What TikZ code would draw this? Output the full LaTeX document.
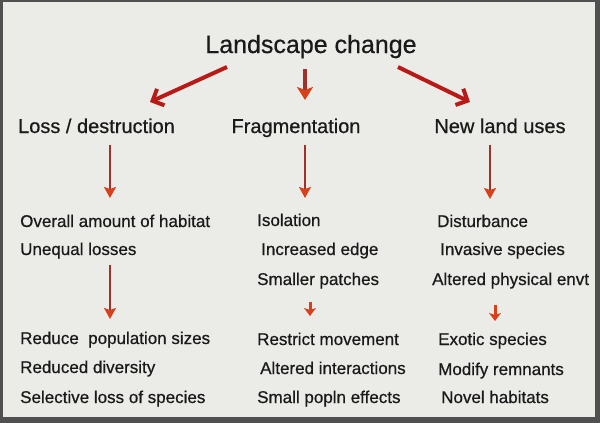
\documentclass[tikz,border=0pt]{standalone}
\usepackage{fontspec}
\setmainfont[FakeBold=0.6,AutoFakeBold=false]{Liberation Sans}
\usetikzlibrary{arrows.meta}
\definecolor{bgc}{HTML}{EBECE8}
\definecolor{framec}{HTML}{505050}
\definecolor{txtc}{HTML}{1A1A1A}
\definecolor{bigred}{HTML}{B81A18}
\definecolor{lined}{HTML}{A0302A}
\definecolor{headr}{HTML}{D8401C}
\tikzset{
  title/.style={inner sep=0pt, anchor=base, text=txtc, font=\fontsize{25}{30}\selectfont},
  heading/.style={inner sep=0pt, anchor=base, text=txtc, font=\fontsize{20}{24}\selectfont},
  item/.style={inner sep=0pt, anchor=base west, text=txtc, font=\fontsize{17}{20}\selectfont},
  bigarrow/.style={draw=bigred, line width=4pt, -{Straight Barb[length=9pt,width=18pt,line width=4pt]}},
  midarrow/.style={draw=lined, line width=3.5pt, -{Stealth[length=13pt,width=16pt,inset=3pt,color=headr]}},
  colarrow/.style={draw=lined, line width=2pt, -{Stealth[length=11pt,width=12pt,inset=2pt,color=headr]}},
  smallarrow/.style={draw=headr, line width=3pt, -{Stealth[length=8pt,width=12pt,inset=2pt,color=headr]}},
}
\begin{document}
\begin{tikzpicture}[x=1pt,y=-1pt]
\useasboundingbox (0,0) rectangle (600,423);
\fill[framec] (0,0) rectangle (600,423);
\fill[bgc] (3,2) rectangle (595,417);
% title and headings
\node[title] (lc) at (311,53) {Landscape change};
\node[heading] (loss) at (96.5,133) {Loss / destruction};
\node[heading] (frag) at (296,133) {Fragmentation};
\node[heading] (newl) at (500,133) {New land uses};
% connector coordinates
\coordinate (a1s) at (227,67);  \coordinate (a1e) at (150,102);
\coordinate (a2s) at (305,69);  \coordinate (a2e) at (305,100);
\coordinate (a3s) at (398,67);  \coordinate (a3e) at (470,102);
\draw[bigarrow] (a1s) -- (a1e);
\draw[midarrow] (a2s) -- (a2e);
\draw[bigarrow] (a3s) -- (a3e);
% left column
\node[item] (l1) at (20,227) {Overall amount of habitat};
\node[item] (l2) at (20,255) {Unequal losses};
\node[item] (l3) at (20,344) {Reduce\ \ population sizes};
\node[item] (l4) at (20,373) {Reduced diversity};
\node[item] (l5) at (20,403) {Selective loss of species};
% middle column
\node[item] (m1) at (257,226) {Isolation};
\node[item] (m2) at (261,255) {Increased edge};
\node[item] (m3) at (257,285) {Smaller patches};
\node[item] (m4) at (257,345) {Restrict movement};
\node[item] (m5) at (260,374) {Altered interactions};
\node[item] (m6) at (257,403) {Small popln effects};
% right column
\node[item] (r1) at (437,227) {Disturbance};
\node[item] (r2) at (440,255) {Invasive species};
\node[item] (r3) at (432,285) {Altered physical envt};
\node[item] (r4) at (438,345) {Exotic species};
\node[item] (r5) at (438,375) {Modify remnants};
\node[item] (r6) at (441,403) {Novel habitats};
% column arrows
\coordinate (c1s) at (110,145); \coordinate (c1e) at (110,198);
\coordinate (c2s) at (110,265); \coordinate (c2e) at (110,319);
\coordinate (c3s) at (305,145); \coordinate (c3e) at (305,198);
\coordinate (c4s) at (490,145); \coordinate (c4e) at (490,199);
\coordinate (c5s) at (310,302); \coordinate (c5e) at (310,316);
\coordinate (c6s) at (495,305); \coordinate (c6e) at (495,321);
\draw[colarrow] (c1s) -- (c1e);
\draw[colarrow] (c2s) -- (c2e);
\draw[colarrow] (c3s) -- (c3e);
\draw[colarrow] (c4s) -- (c4e);
\draw[smallarrow] (c5s) -- (c5e);
\draw[smallarrow] (c6s) -- (c6e);
\end{tikzpicture}
\end{document}
